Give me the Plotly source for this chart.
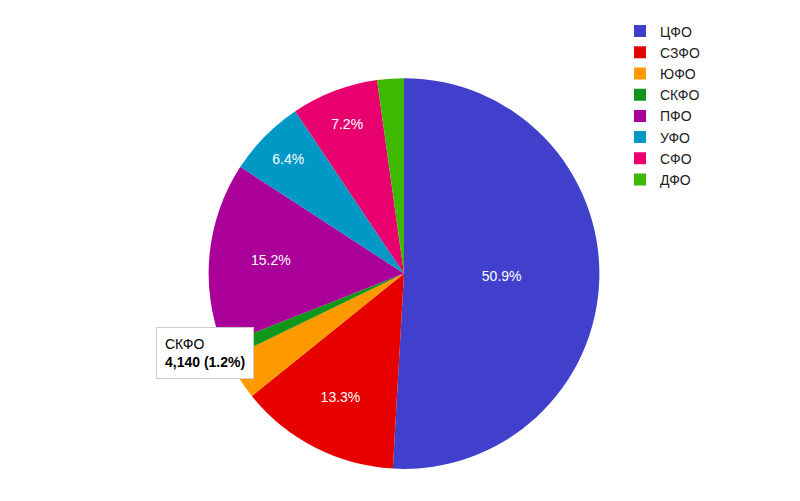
import plotly.graph_objects as go

regions = ['ЦФО', 'СЗФО', 'ЮФО', 'СКФО', 'ПФО', 'УФО', 'СФО', 'ДФО']
values = [175600, 45900, 12400, 4140, 52400, 22100, 24800, 7600]
colors = ['#4040cc', '#e60000', '#ff9900', '#109618', '#aa0099',
          '#0099c6', '#e8006e', '#3eb800']

total = sum(values)
labels_txt = [f"{v / total * 100:.1f}%" if v / total > 0.05 else "" for v in values]

fig = go.Figure(go.Pie(
    labels=regions, values=values, sort=False, direction='clockwise',
    marker=dict(colors=colors, line=dict(color='white', width=0)),
    text=labels_txt, textinfo='text', textposition='inside',
    insidetextorientation='horizontal',
    textfont=dict(color='white', size=14, family='Arial'),
    domain=dict(x=[0.24, 0.75], y=[0.08, 0.86]),
))

# tooltip-like box
fig.add_annotation(
    x=0.185, y=0.26, xref='paper', yref='paper', showarrow=False,
    text="СКФО<br><b>4,140 (1.2%)</b>", align='left',
    font=dict(size=14, color='black', family='Arial'),
    bgcolor='white', bordercolor='#cccccc', borderwidth=1, borderpad=8,
)

fig.update_layout(
    width=800, height=501,
    paper_bgcolor='white', plot_bgcolor='white',
    margin=dict(l=0, r=0, t=0, b=0),
    font=dict(family='Arial', size=14, color='#222222'),
    legend=dict(x=0.765, y=0.985, xanchor='left', yanchor='top',
                font=dict(size=14), itemsizing='constant',
                tracegroupgap=2),
)

fig.write_html("out.html")
